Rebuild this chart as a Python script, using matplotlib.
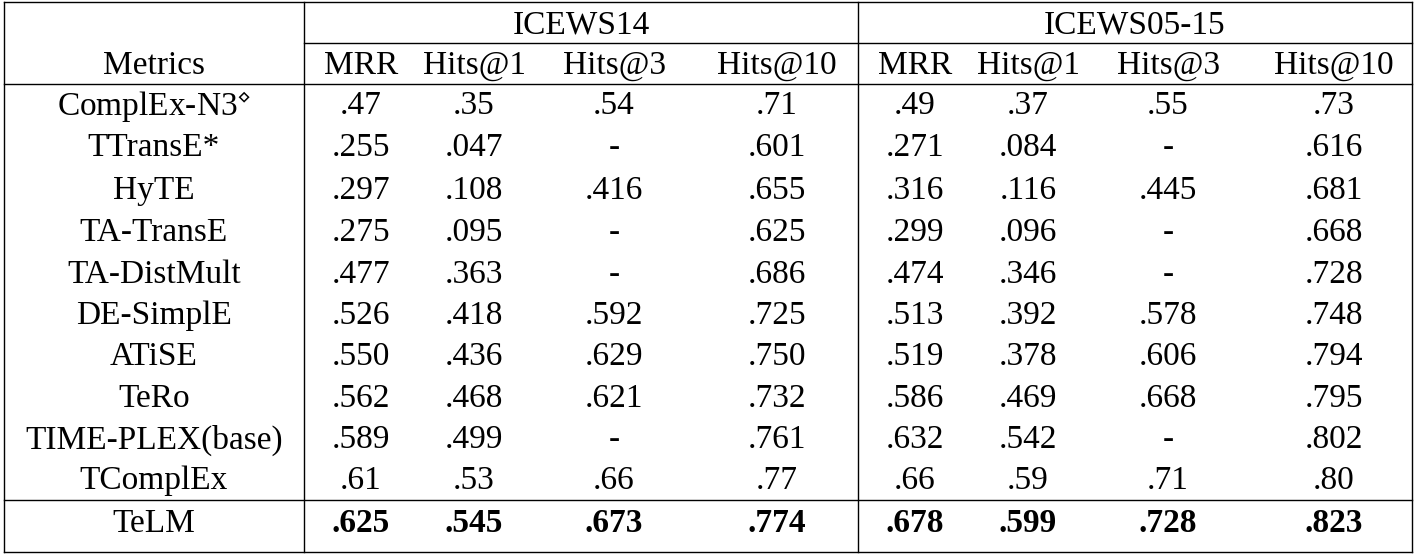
import matplotlib
matplotlib.use("Agg")
import matplotlib.pyplot as plt

plt.rcParams['font.family'] = ['Liberation Serif', 'DejaVu Serif']
plt.rcParams['mathtext.fontset'] = 'stix'

groups = ["ICEWS14", "ICEWS05-15"]
metrics = ["MRR", "Hits@1", "Hits@3", "Hits@10"]
models = ["ComplEx-N3$^{\\diamond}$", "TTransE*", "HyTE", "TA-TransE", "TA-DistMult",
          "DE-SimplE", "ATiSE", "TeRo", "TIME-PLEX(base)", "TComplEx"]
values = [
    [".47", ".35", ".54", ".71", ".49", ".37", ".55", ".73"],
    [".255", ".047", "-", ".601", ".271", ".084", "-", ".616"],
    [".297", ".108", ".416", ".655", ".316", ".116", ".445", ".681"],
    [".275", ".095", "-", ".625", ".299", ".096", "-", ".668"],
    [".477", ".363", "-", ".686", ".474", ".346", "-", ".728"],
    [".526", ".418", ".592", ".725", ".513", ".392", ".578", ".748"],
    [".550", ".436", ".629", ".750", ".519", ".378", ".606", ".794"],
    [".562", ".468", ".621", ".732", ".586", ".469", ".668", ".795"],
    [".589", ".499", "-", ".761", ".632", ".542", "-", ".802"],
    [".61", ".53", ".66", ".77", ".66", ".59", ".71", ".80"],
]
best_model = "TeLM"
best_values = [".625", ".545", ".673", ".774", ".678", ".599", ".728", ".823"]

fig = plt.figure(figsize=(14.16, 5.55), dpi=100)
ax = fig.add_axes([0, 0, 1, 1])
ax.set_xlim(0, 1416)
ax.set_ylim(555, 0)
ax.axis("off")

fs = 24
col_x = [361, 474, 614, 777, 915, 1028, 1168, 1334]
name_x = 154
row_y = [106, 148, 191, 233, 275, 316, 357, 399, 440, 481]

lw = 1.0
for y in [2, 84, 500, 552]:
    ax.plot([4, 1412], [y, y], color="black", lw=lw)
ax.plot([304, 1412], [43, 43], color="black", lw=lw)
for x in [4, 304, 858, 1412]:
    ax.plot([x, x], [2, 552], color="black", lw=lw)

for gx, g in zip([581, 1135], groups):
    ax.text(gx, 25, g, ha="center", va="center", fontsize=fs)
ax.text(name_x, 66, "Metrics", ha="center", va="center", fontsize=fs)
for i, m in enumerate(metrics * 2):
    ax.text(col_x[i], 66, m, ha="center", va="center", fontsize=fs)

for y, name, vals in zip(row_y, models, values):
    ax.text(name_x, y, name, ha="center", va="center", fontsize=fs)
    for x, v in zip(col_x, vals):
        ax.text(x, y, v, ha="center", va="center", fontsize=fs)

ax.text(name_x, 524, best_model, ha="center", va="center", fontsize=fs)
for x, v in zip(col_x, best_values):
    ax.text(x, 524, v, ha="center", va="center", fontsize=fs, fontweight="bold")

fig.savefig("out.png", dpi=100)
